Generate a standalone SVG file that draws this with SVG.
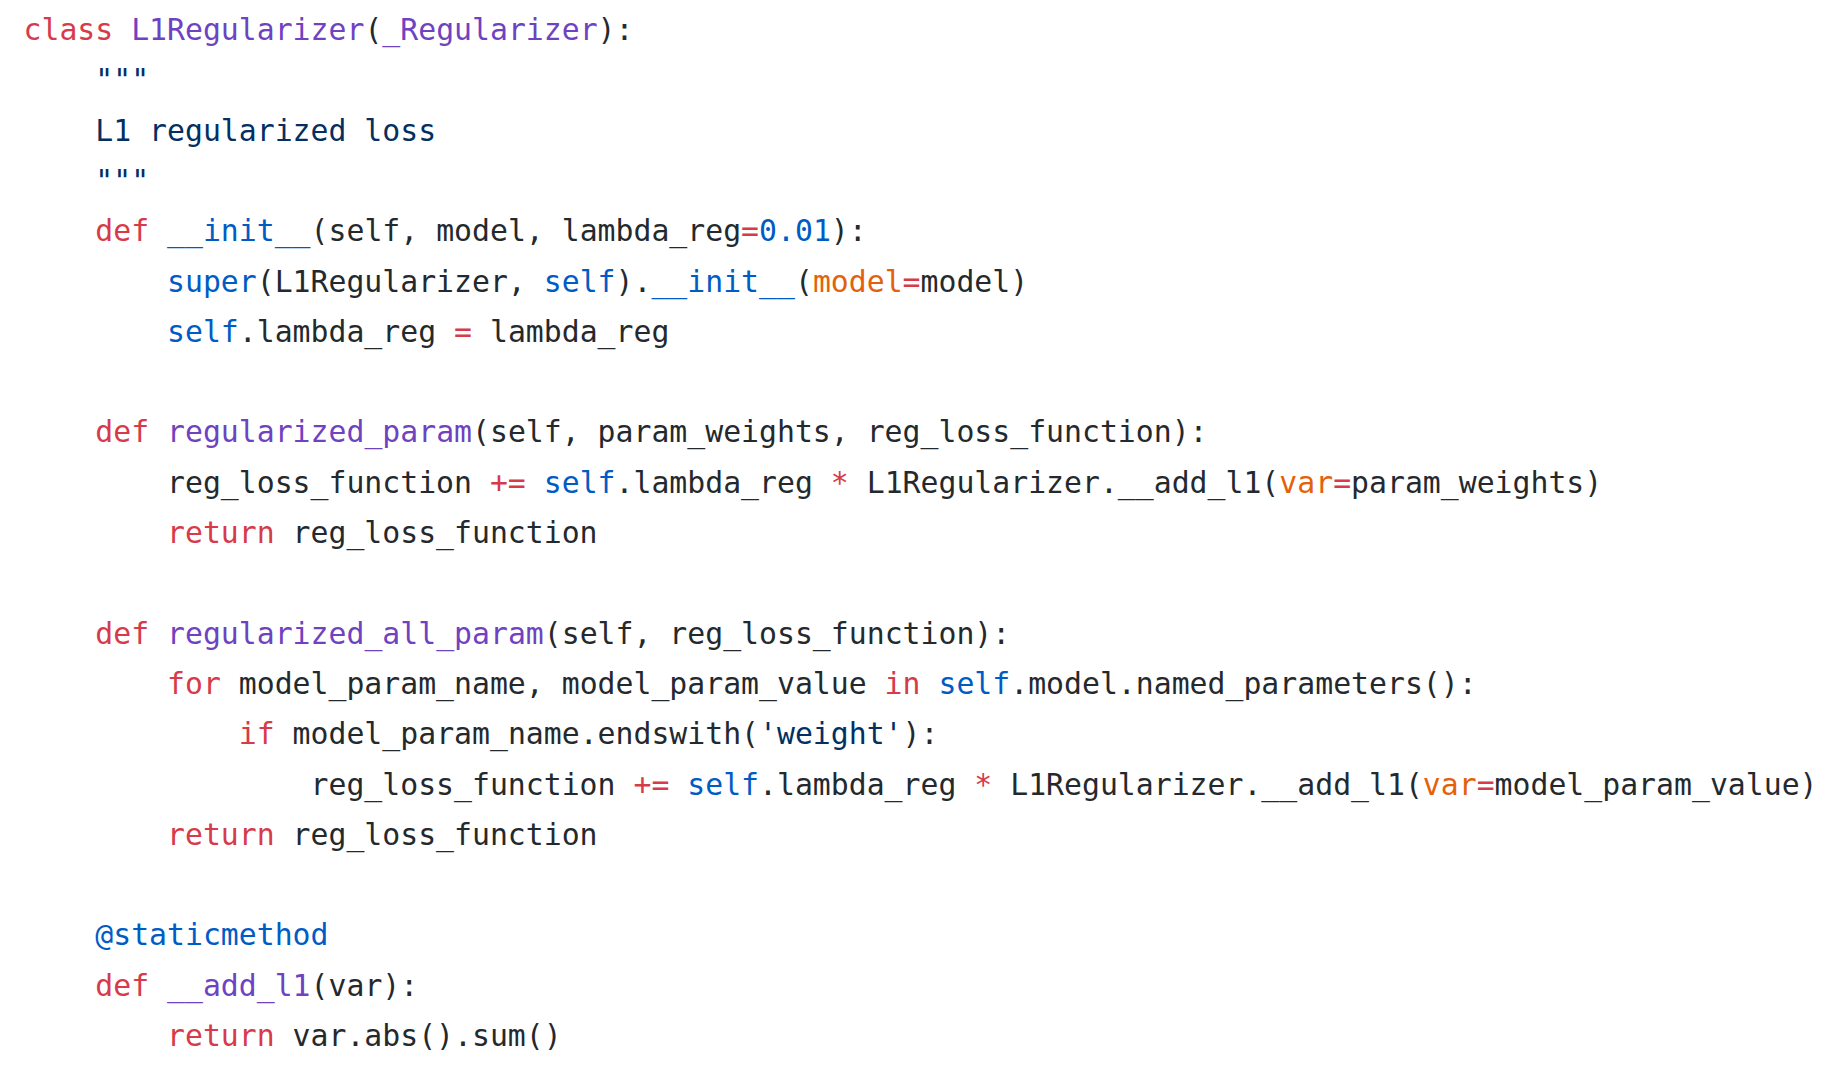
<svg xmlns="http://www.w3.org/2000/svg" width="1834" height="1080" viewBox="0 0 1834 1080">
<style>
text{font-family:"DejaVu Sans Mono","Liberation Mono",monospace;font-size:29.8px;fill:#24292e;white-space:pre}
.k{fill:#d73a49}.f{fill:#6f42c1}.b{fill:#005cc5}.o{fill:#e36209}.s{fill:#032f62}
</style>
<rect width="1834" height="1080" fill="#ffffff"/>
<g id="code" xml:space="preserve">
<text x="23.5" y="40"><tspan class="k">class</tspan> <tspan class="f">L1Regularizer</tspan>(<tspan class="f">_Regularizer</tspan>):</text>
<text x="23.5" y="90.3" class="s">    """</text>
<text x="23.5" y="140.6" class="s">    L1 regularized loss</text>
<text x="23.5" y="190.9" class="s">    """</text>
<text x="23.5" y="241.2">    <tspan class="k">def</tspan> <tspan class="b">__init__</tspan>(self, model, lambda_reg<tspan class="k">=</tspan><tspan class="b">0.01</tspan>):</text>
<text x="23.5" y="291.5">        <tspan class="b">super</tspan>(L1Regularizer, <tspan class="b">self</tspan>).<tspan class="b">__init__</tspan>(<tspan class="o">model</tspan><tspan class="k">=</tspan>model)</text>
<text x="23.5" y="341.8">        <tspan class="b">self</tspan>.lambda_reg <tspan class="k">=</tspan> lambda_reg</text>
<text x="23.5" y="442.4">    <tspan class="k">def</tspan> <tspan class="f">regularized_param</tspan>(self, param_weights, reg_loss_function):</text>
<text x="23.5" y="492.7">        reg_loss_function <tspan class="k">+=</tspan> <tspan class="b">self</tspan>.lambda_reg <tspan class="k">*</tspan> L1Regularizer.__add_l1(<tspan class="o">var</tspan><tspan class="k">=</tspan>param_weights)</text>
<text x="23.5" y="543">        <tspan class="k">return</tspan> reg_loss_function</text>
<text x="23.5" y="643.6">    <tspan class="k">def</tspan> <tspan class="f">regularized_all_param</tspan>(self, reg_loss_function):</text>
<text x="23.5" y="693.9">        <tspan class="k">for</tspan> model_param_name, model_param_value <tspan class="k">in</tspan> <tspan class="b">self</tspan>.model.named_parameters():</text>
<text x="23.5" y="744.2">            <tspan class="k">if</tspan> model_param_name.endswith(<tspan class="s">'weight'</tspan>):</text>
<text x="23.5" y="794.5">                reg_loss_function <tspan class="k">+=</tspan> <tspan class="b">self</tspan>.lambda_reg <tspan class="k">*</tspan> L1Regularizer.__add_l1(<tspan class="o">var</tspan><tspan class="k">=</tspan>model_param_value)</text>
<text x="23.5" y="844.8">        <tspan class="k">return</tspan> reg_loss_function</text>
<text x="23.5" y="945.4">    <tspan class="b">@staticmethod</tspan></text>
<text x="23.5" y="995.7">    <tspan class="k">def</tspan> <tspan class="f">__add_l1</tspan>(var):</text>
<text x="23.5" y="1046">        <tspan class="k">return</tspan> var.abs().sum()</text>
</g>
</svg>
